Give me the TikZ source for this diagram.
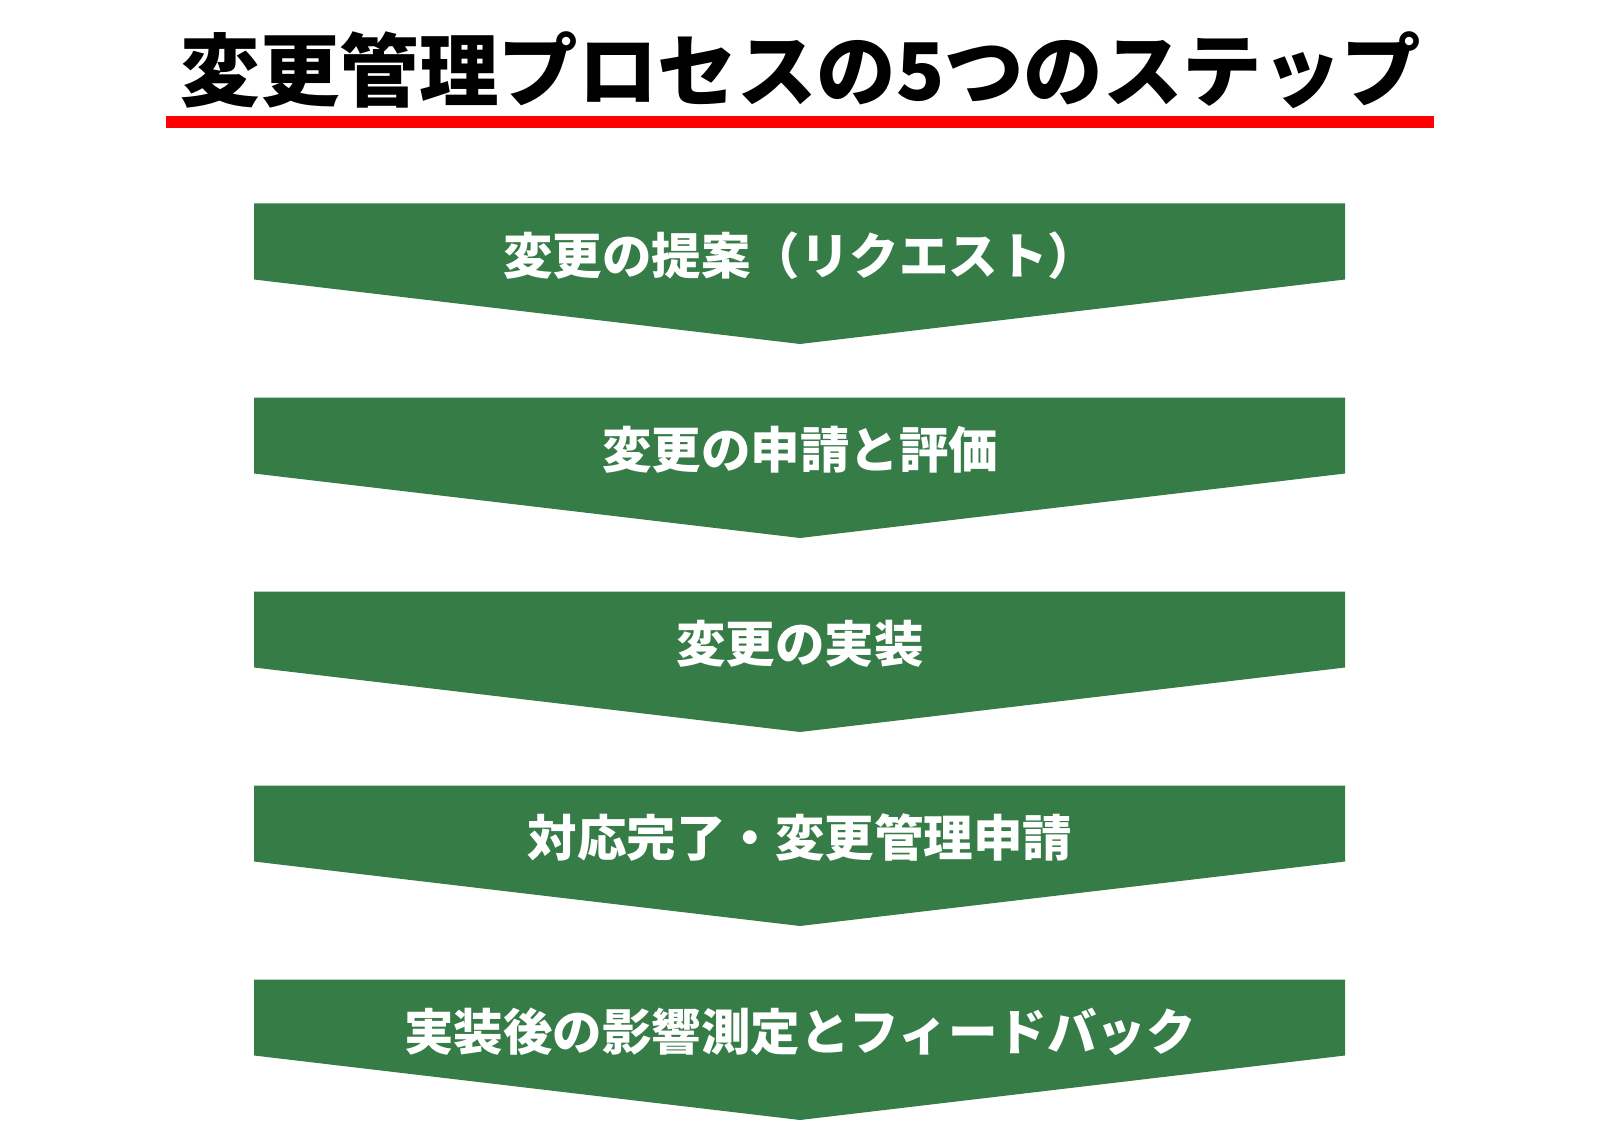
\documentclass[tikz,border=0pt]{standalone}
\usepackage{fontspec}
\setmainfont{Noto Sans CJK JP}
\definecolor{stepgreen}{RGB}{54,124,71}
\definecolor{linered}{RGB}{255,0,0}
\begin{document}
\begin{tikzpicture}[x=1pt,y=-1pt,
  chevron/.style={fill=stepgreen},
  steplabel/.style={anchor=base, text=white, font=\fontsize{49.5}{58}\selectfont\bfseries, inner sep=0pt}]
\useasboundingbox (0,0) rectangle (1599,1142);

\node [anchor=base, inner sep=0pt, font=\fontsize{79.5}{96}\selectfont\bfseries] (title) at (801,101) {変更管理プロセスの5つのステップ};
\fill [linered] (166,116) rectangle (1434,128);

\fill [chevron] (254,203.5) -- (1345,203.5) -- (1345,279.5) -- (800,344) -- (254,279.5) -- cycle;
\fill [chevron] (254,397.5) -- (1345,397.5) -- (1345,473.5) -- (800,538) -- (254,473.5) -- cycle;
\fill [chevron] (254,591.5) -- (1345,591.5) -- (1345,667.5) -- (800,732) -- (254,667.5) -- cycle;
\fill [chevron] (254,785.5) -- (1345,785.5) -- (1345,861.5) -- (800,926) -- (254,861.5) -- cycle;
\fill [chevron] (254,979.5) -- (1345,979.5) -- (1345,1055.5) -- (800,1120) -- (254,1055.5) -- cycle;

\node [steplabel] (s1) at (800,274) {変更の提案（リクエスト）};
\node [steplabel] (s2) at (800,468) {変更の申請と評価};
\node [steplabel] (s3) at (800,662) {変更の実装};
\node [steplabel] (s4) at (800,856) {対応完了・変更管理申請};
\node [steplabel] (s5) at (800,1050) {実装後の影響測定とフィードバック};
\end{tikzpicture}
\end{document}
